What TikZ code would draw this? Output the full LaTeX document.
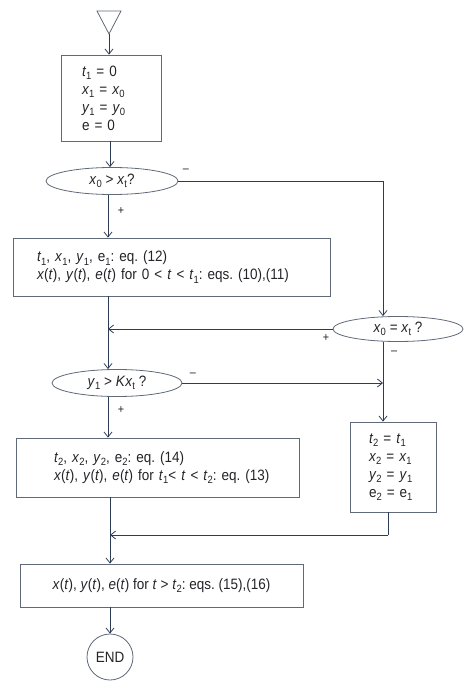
\documentclass[tikz,border=0pt]{standalone}
\usepackage{fontspec}
\setmainfont[FakeStretch=0.9]{Liberation Sans}
\usetikzlibrary{arrows.meta,shapes.geometric}
\newcommand\sbs[1]{\raisebox{-0.22em}{\fontsize{10.5}{11}\selectfont #1}}
\newcommand\vi[2]{\textit{#1}\sbs{#2}}
\newcommand\vu[2]{#1\sbs{#2}}
\definecolor{linecol}{RGB}{45,60,85}
\definecolor{shapecol}{RGB}{95,105,120}
\definecolor{txtcol}{RGB}{35,35,40}
\frenchspacing
\begin{document}
\begin{tikzpicture}[x=1pt,y=-1pt,
  every node/.style={text=txtcol,font=\fontsize{15}{18}\selectfont},
  procbox/.style={draw=shapecol,line width=0.8pt,rectangle,align=left,inner ysep=0pt},
  decision/.style={draw=shapecol,line width=0.8pt,ellipse,inner sep=0pt},
  arr/.style={draw=linecol,line width=0.8pt,-{Straight Barb[length=5pt,width=8pt]}},
  ln/.style={draw=linecol,line width=0.8pt},
  sign/.style={inner sep=0pt,font=\fontsize{12}{12}\selectfont}]
\useasboundingbox (0,0) rectangle (474,690);
% start triangle
\draw[draw=shapecol,line width=0.8pt] (97,11) -- (121,11) -- (109,34) -- cycle;
\coordinate (startapex) at (109,34);
% column coordinates
\coordinate (colL) at (108,0);
\coordinate (colR) at (383,0);
\coordinate (colM) at (110,0);
% nodes
\node[procbox,minimum height=86pt,text width=58pt,inner xsep=21pt] (box1) at (111,98)
  {\vi{t}{1} = 0\\ \vi{x}{1} = \vi{x}{0}\\ \vi{y}{1} = \vi{y}{0}\\ e = 0};
\node[decision,minimum width=132pt,minimum height=27pt] (ell1) at (112,181) {\vi{x}{0} > \vi{x}{t}?};
\node[procbox,minimum height=58pt,text width=269pt,inner xsep=24pt] (box2) at (171.5,267)
  {\vi{t}{1}, \vi{x}{1}, \vi{y}{1}, \vu{e}{1}: eq. (12)\\
   \textit{x}(\textit{t}), \textit{y}(\textit{t}), \textit{e}(\textit{t}) for 0 < \textit{t} < \vi{t}{1}: eqs. (10),(11)};
\node[decision,minimum width=130pt,minimum height=25pt] (ell2) at (398,329) {\vi{x}{0} = \vi{x}{t} ?};
\node[decision,minimum width=130pt,minimum height=27pt] (ell3) at (117,383) {\vi{y}{1} > \textit{K}\vi{x}{t} ?};
\node[procbox,minimum height=59pt,text width=250pt,inner xsep=16.5pt] (box3) at (157.5,467.5)
  {\hspace*{21.5pt}\vi{t}{2}, \vi{x}{2}, \vi{y}{2}, \vu{e}{2}: eq. (14)\\
   \hspace*{21.5pt}\textit{x}(\textit{t}), \textit{y}(\textit{t}), \textit{e}(\textit{t}) for \vi{t}{1}< \textit{t} < \vi{t}{2}: eq. (13)};
\node[procbox,minimum height=90pt,text width=48pt,inner xsep=19pt] (box4) at (393,467)
  {\vi{t}{2} = \vi{t}{1}\\ \vi{x}{2} = \vi{x}{1}\\ \vi{y}{2} = \vi{y}{1}\\ \vu{e}{2} = \vu{e}{1}};
\node[procbox,minimum height=43pt,minimum width=283pt,align=center] (box5) at (161.5,585.5)
  {\textit{x}(\textit{t}), \textit{y}(\textit{t}), \textit{e}(\textit{t}) for \textit{t} > \vi{t}{2}: eqs. (15),(16)};
\node[draw=shapecol,line width=0.8pt,circle,minimum size=46pt,inner sep=0pt] (endn) at (110,657) {END};
\coordinate (join) at (388,535);
% connectors
\draw[arr] (startapex) -- (startapex |- box1.north);
\draw[arr] (box1.south -| colM) -- (ell1.north -| colM);
\draw[arr] (ell1.south -| colL) -- (box2.north -| colL);
\draw[arr] (ell1.east) -| (ell2.north -| colR);
\draw[arr] (box2.south -| colL) -- (ell3.north -| colL);
\draw[arr] (ell2.west) -- (ell2.west -| colL);
\draw[arr] (ell2.south -| colR) -- (box4.north -| colR);
\draw[arr] (ell3.east) -- (ell3.east -| colR);
\draw[arr] (ell3.south -| colL) -- (box3.north -| colL);
\draw[arr] (box3.south -| colM) -- (box5.north -| colM);
\draw[ln] (box4.south -| join) -- (join);
\draw[arr] (join) -- (join -| colM);
\draw[arr] (box5.south -| colM) -- (endn.north);
% signs
\node[sign] (s1) at (186,171) {–};
\node[sign] (s2) at (121,211) {+};
\node[sign] (s3) at (326,338) {+};
\node[sign] (s4) at (394,353) {–};
\node[sign] (s5) at (193,375) {–};
\node[sign] (s6) at (121,410) {+};
\end{tikzpicture}
\end{document}
